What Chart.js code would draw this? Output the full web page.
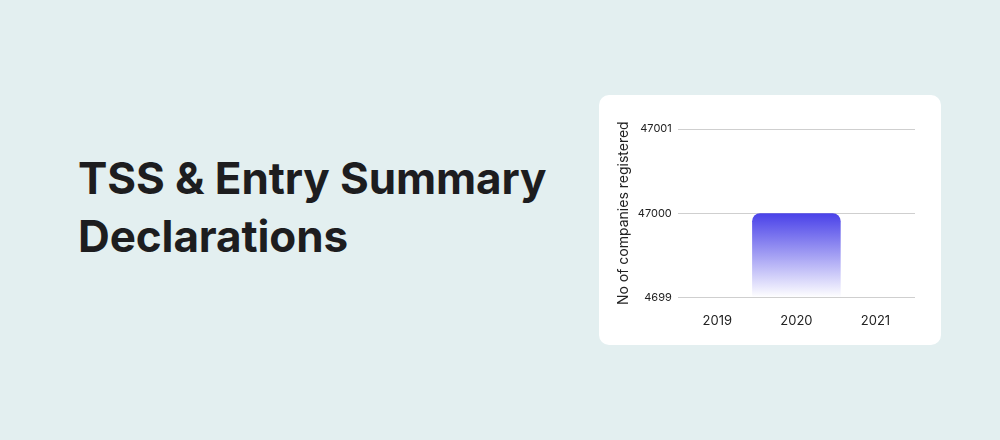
<!DOCTYPE html>
<html>
<head>
<meta charset="utf-8">
<script src="https://cdn.jsdelivr.net/npm/chart.js@4"></script>
<style>
  body { margin: 0; width: 1000px; height: 440px; background: #e3eff0; font-family: Inter, sans-serif; position: relative; overflow: hidden; }
  h1 { position: absolute; left: 78px; top: 149px; margin: 0; font-size: 44px; line-height: 58px; font-weight: 700; color: #1d1d1f; letter-spacing: -0.1px; }
  .card { position: absolute; left: 599px; top: 95px; width: 342px; height: 250px; background: #fff; border-radius: 10px; }
  .card canvas { position: absolute; left: 8px; top: 6px; }
</style>
</head>
<body>
<h1>TSS &amp; Entry Summary<br>Declarations</h1>
<div class="card"><canvas id="chart" width="326" height="236"></canvas></div>
<script>
// years on the x axis, tick labels on the y axis (as drawn in the source)
var years = ['2019', '2020', '2021'];
var yTicks = ['4699', '47000', '47001'];
var companies = [null, '47000', null];

var elem = document.getElementById('chart');
var ctx = elem.getContext('2d');

function barFill(context) {
  var area = context.chart.chartArea;
  if (!area) return '#4f46e5';
  var g = ctx.createLinearGradient(0, area.top + 84, 0, area.bottom);
  g.addColorStop(0, 'rgba(72, 64, 232, 1)');
  g.addColorStop(1, 'rgba(72, 64, 232, 0)');
  return g;
}

new Chart(elem, {
  type: 'bar',
  data: {
    labels: years,
    datasets: [{
      label: 'No of companies registered',
      data: companies,
      backgroundColor: barFill,
      borderRadius: { topLeft: 8, topRight: 8 },
      borderSkipped: 'bottom',
      barPercentage: 1.12,
      categoryPercentage: 1
    }]
  },
  options: {
    responsive: false,
    animation: false,
    layout: { padding: { top: 28, left: 8, right: 18, bottom: 0 } },
    plugins: { legend: { display: false }, tooltip: { enabled: false } },
    scales: {
      x: {
        grid: { display: false },
        border: { display: false },
        ticks: { color: '#222', font: { family: 'Inter', size: 13 }, padding: 8 }
      },
      y: {
        type: 'category',
        labels: yTicks,
        reverse: true,
        offset: false,
        grid: { color: '#cfcfcf', drawTicks: false },
        border: { display: false },
        ticks: { color: '#222', font: { family: 'Inter', size: 11 }, padding: 6 },
        title: { display: true, text: 'No of companies registered', color: '#222', font: { family: 'Inter', size: 14 }, padding: { top: 0, bottom: 0 } }
      }
    }
  }
});
</script>
</body>
</html>
